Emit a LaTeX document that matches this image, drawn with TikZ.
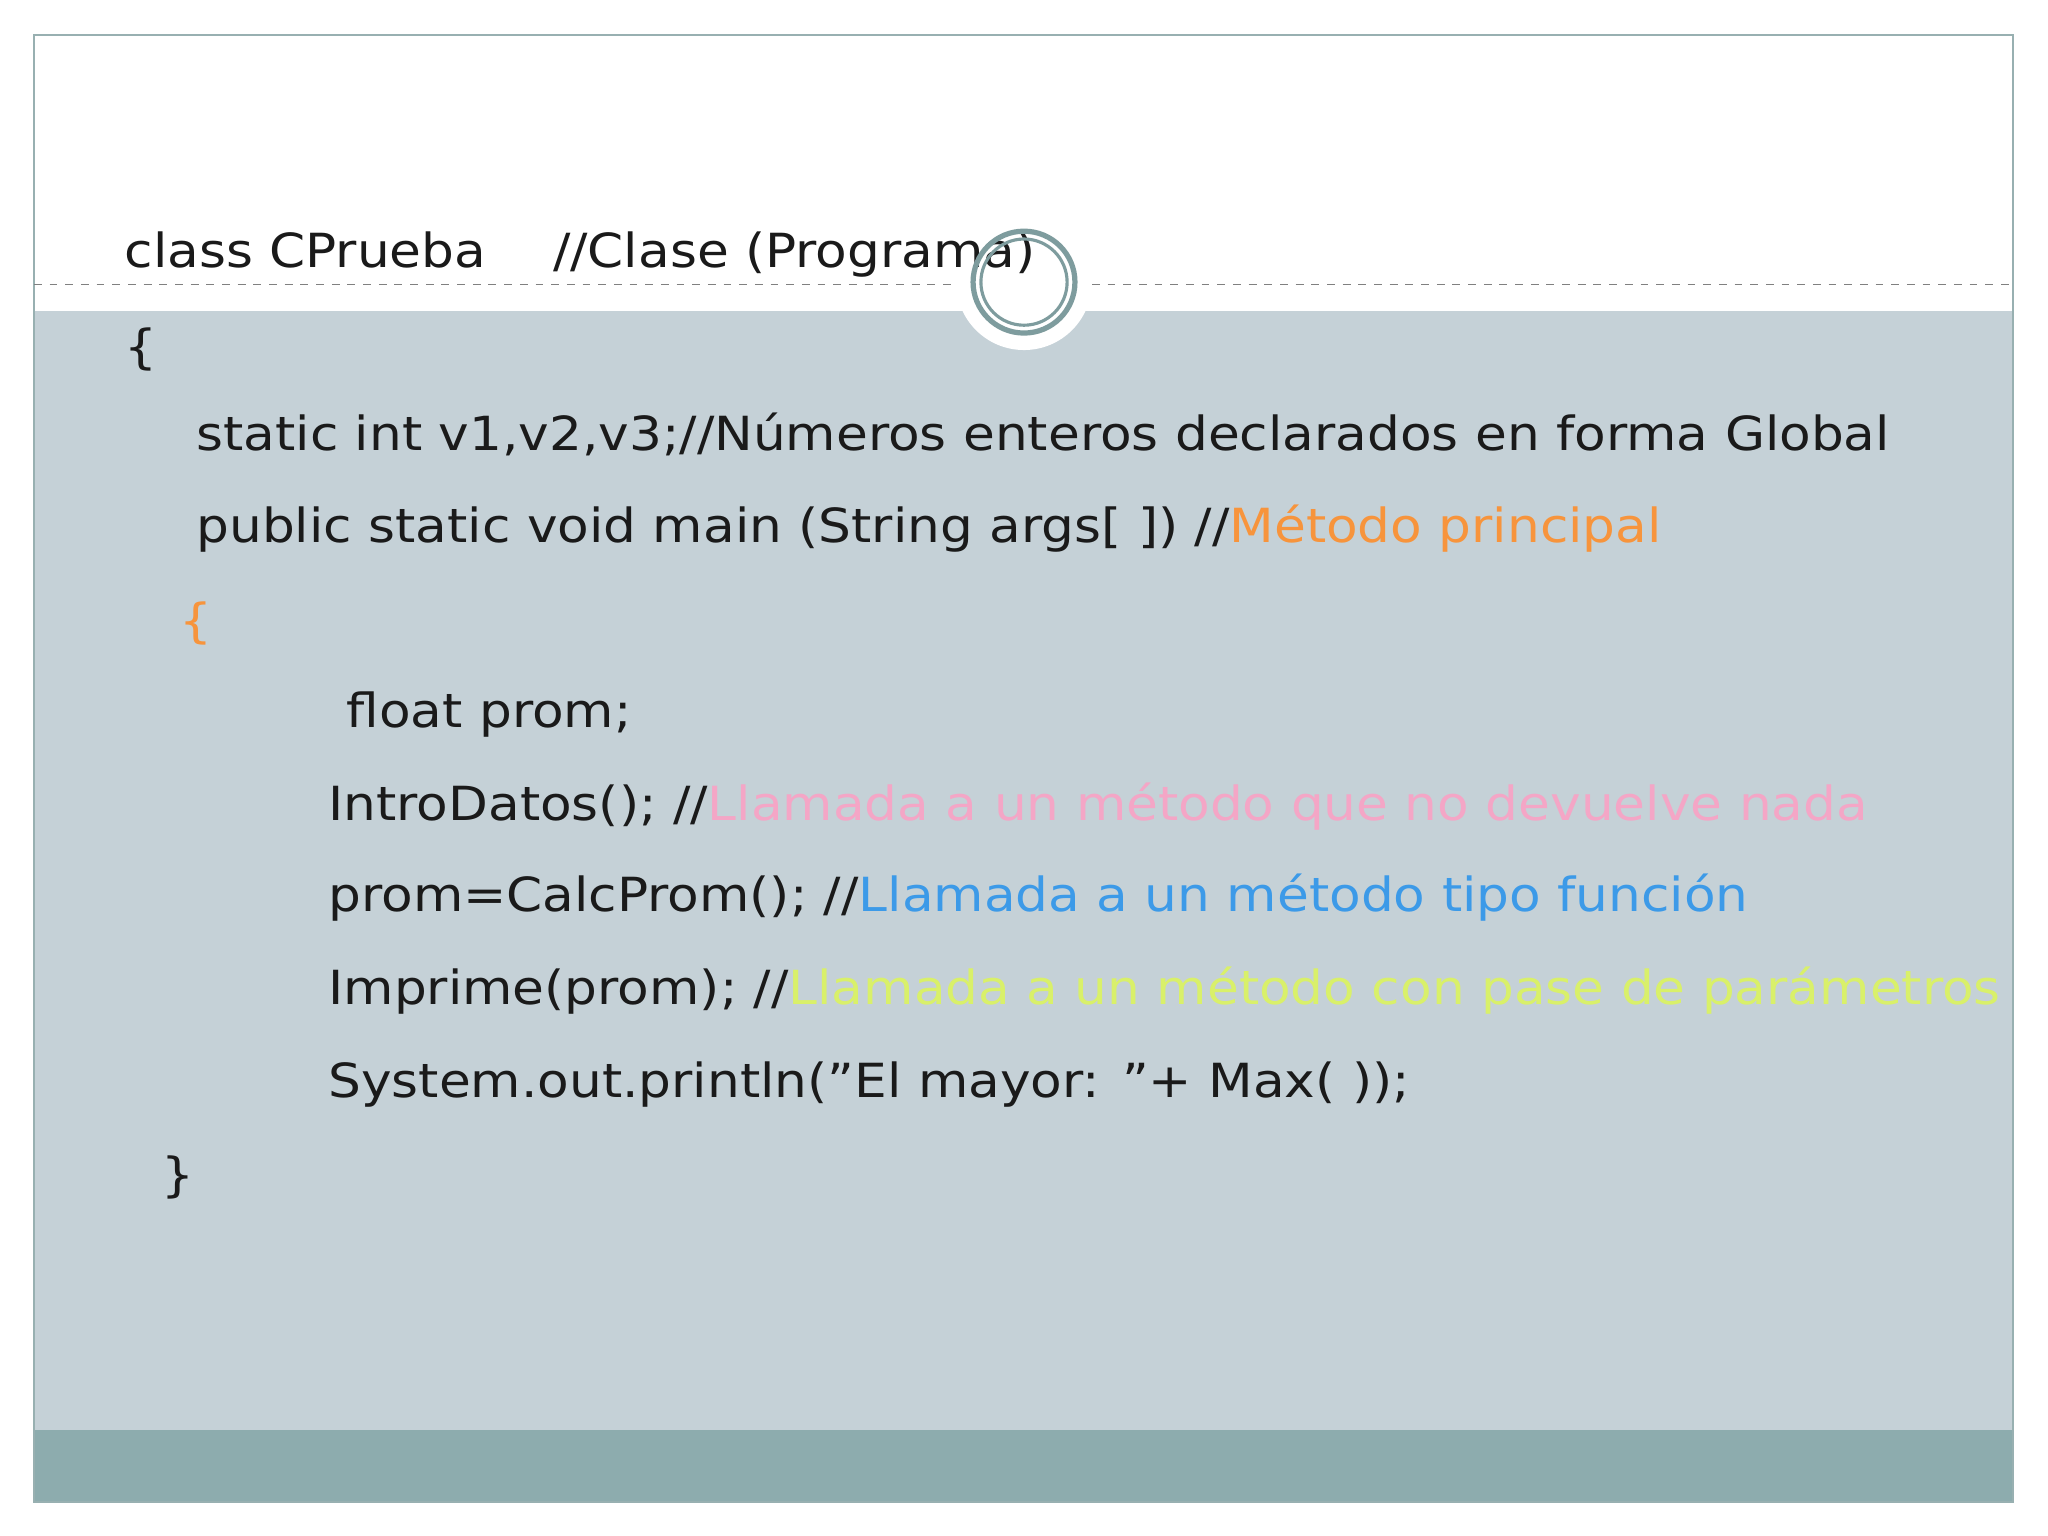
\documentclass[tikz,border=0pt]{standalone}
\usepackage{fontspec}
\setmainfont[FakeStretch=1.10]{DejaVu Sans}
\definecolor{bgb}{HTML}{C5D1D7}
\definecolor{band}{HTML}{8DACAE}
\definecolor{ring}{HTML}{7E9C9E}
\definecolor{orn}{HTML}{F7943C}
\definecolor{pnk}{HTML}{F4A6C6}
\definecolor{blu}{HTML}{3C9AE8}
\definecolor{ylw}{HTML}{D9F06A}
\definecolor{txt}{HTML}{1A1A1A}
\begin{document}
\begin{tikzpicture}[x=0.5pt,y=-0.5pt,
  code/.style={anchor=base west,inner sep=0pt,font=\fontsize{18}{21}\selectfont,text=txt}]
\useasboundingbox (0,0) rectangle (1568,1176);
\fill[white] (0,0) rectangle (1568,1176);
\fill[bgb] (26,238) rectangle (1541,1095);
\fill[band] (26,1095) rectangle (1541,1150);
\draw[ring!80,line width=0.8pt] (26,27) rectangle (1541,1150);
\draw[gray,dashed,line width=0.5pt] (26,218) -- (733,218);
\draw[gray,dashed,line width=0.5pt] (836,218) -- (1541,218);
\fill[white] (784,216) circle[radius=52];
\begin{scope}
\clip (26,27) rectangle (1541,1150);
\node[code] (l1) at (95,205) {class CPrueba};
\node[code] (l1b) at (423,205) {//Clase (Programa)};
\node[code] (l2) at (95,278) {\{};
\node[code] (l3) at (150,345) {static int v1,v2,v3;//Números enteros declarados en forma Global};
\node[code] (l4) at (150,415) {public static void main (String args[ ]) //\textcolor{orn}{Método principal}};
\node[code,text=orn] (l5) at (137,488) {\{};
\node[code] (l6) at (265,557) {float prom;};
\node[code] (l7) at (251,628) {IntroDatos(); //\textcolor{pnk}{Llamada a un método que no devuelve nada}};
\node[code] (l8) at (251,698) {prom=CalcProm(); //\textcolor{blu}{Llamada a un método tipo función}};
\node[code] (l9) at (251,769) {Imprime(prom); //\textcolor{ylw}{Llamada a un método con pase de parámetros}};
\node[code] (l10) at (251,840) {System.out.println(\symbol{34}El mayor: \symbol{34}+ Max( ));};
\node[code] (l11) at (123,912) {\}};
\end{scope}
\draw[ring,line width=2pt] (784,216) circle[radius=39];
\draw[ring,line width=1.2pt] (784,216) circle[radius=33];
\end{tikzpicture}
\end{document}
